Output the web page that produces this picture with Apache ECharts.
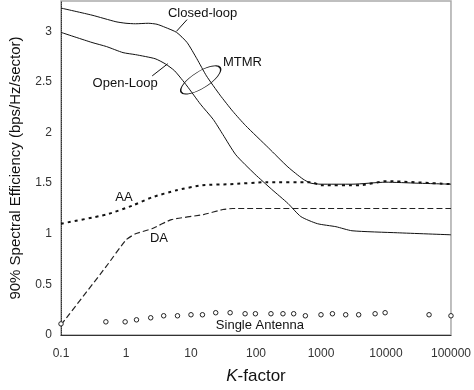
<!DOCTYPE html>
<html><head><meta charset="utf-8">
<script src="https://cdn.jsdelivr.net/npm/echarts@6/dist/echarts.min.js"></script>
<style>html,body{margin:0;padding:0;background:#fff}#c{width:474px;height:390px}</style>
</head><body><div id="c"></div>
<script>
// ---- data ----
const xTicks = [0.1, 1, 10, 100, 1000, 10000, 100000];
const yTicks = [0, 0.5, 1, 1.5, 2, 2.5, 3];

const closedK = [0.1, 0.3, 0.7, 1, 1.4, 2.2, 3, 4, 6, 8.7, 12.3, 17.3, 28, 44, 69, 155, 310, 530, 700, 1000, 3000, 10000, 30000, 100000];
const closedV = [3.23, 3.16, 3.095, 3.08, 3.075, 3.08, 3.07, 3.04, 2.99, 2.89, 2.73, 2.56, 2.37, 2.21, 2.07, 1.85, 1.66, 1.54, 1.50, 1.49, 1.49, 1.51, 1.50, 1.49];

const openK = [0.1, 0.3, 0.5, 0.9, 1.4, 2.8, 4, 5.6, 8.7, 14, 22, 31, 49, 96, 174, 310, 490, 880, 1700, 3000, 15000, 100000];
const openV = [2.99, 2.89, 2.85, 2.79, 2.77, 2.73, 2.68, 2.61, 2.46, 2.28, 2.13, 1.98, 1.78, 1.59, 1.44, 1.30, 1.17, 1.10, 1.07, 1.03, 1.01, 0.99];

const aaK = [0.1, 0.5, 1.27, 2.5, 6, 15, 40, 150, 700, 1000, 4000, 10000, 100000];
const aaV = [1.10, 1.19, 1.28, 1.36, 1.43, 1.48, 1.49, 1.51, 1.51, 1.48, 1.48, 1.52, 1.49];

const daK = [0.1, 0.5, 1.0, 1.4, 2.5, 5, 15.6, 31, 44, 1000, 100000];
const daV = [0.10, 0.68, 0.94, 1.00, 1.05, 1.14, 1.19, 1.24, 1.25, 1.25, 1.25];

const saK = [0.1, 0.49, 0.97, 1.45, 2.4, 3.8, 6.2, 10, 15, 24, 40, 68, 98, 170, 260, 380, 575, 1000, 1500, 2400, 3800, 6800, 9700, 46000, 100000];
const saV = [0.11, 0.13, 0.13, 0.15, 0.17, 0.19, 0.19, 0.20, 0.20, 0.22, 0.22, 0.21, 0.21, 0.21, 0.21, 0.21, 0.19, 0.20, 0.21, 0.20, 0.20, 0.21, 0.22, 0.20, 0.19];

// annotations in data coordinates
const labels = [
  {text: 'Closed-loop', k: 15.1, v: 3.18},
  {text: 'Open-Loop', k: 0.97, v: 2.49},
  {text: 'MTMR', k: 62, v: 2.69},
  {text: 'AA', k: 0.93, v: 1.36},
  {text: 'DA', k: 3.21, v: 0.954},
  {text: 'Single Antenna', k: 115, v: 0.097}
];
const leaders = [
  [[5.97, 3.00], [8.7, 3.116]],
  [[2.53, 2.56], [4.39, 2.68]]
];
const ellipseCenter = [14.1, 2.52];

const zip = (a, b) => a.map((x, i) => [x, b[i]]);

const chart = echarts.init(document.getElementById('c'), null, {renderer: 'canvas'});
const font = 'Liberation Sans, Arial, Helvetica, sans-serif';
chart.setOption({
  animation: false,
  backgroundColor: '#fff',
  grid: {left: 53, right: 20, top: 1, bottom: 50, show: true, borderColor: '#aaa', borderWidth: 1.5},
  xAxis: {
    type: 'log', logBase: 10, min: 0.1, max: 100000,
    axisLine: {show: true, lineStyle: {color: '#333', width: 1}},
    axisTick: {show: false},
    splitLine: {show: false},
    axisLabel: {color: '#333', fontFamily: font, fontSize: 12, margin: 13,
      formatter: v => { const r = xTicks.find(t => Math.abs(Math.log10(t) - Math.log10(v)) < 1e-6); return r === undefined ? '' : String(r); }},
    name: '{i|K}{n|-factor}', nameLocation: 'middle', nameGap: 33,
    nameTextStyle: {rich: {i: {fontStyle: 'italic', fontSize: 17, fontFamily: font, color: '#111'}, n: {fontSize: 17, fontFamily: font, color: '#111'}}}
  },
  yAxis: {
    type: 'value', min: 0, max: 3.3, interval: 0.5,
    axisLine: {show: true, lineStyle: {color: '#333', width: 1, type: 'dotted'}},
    axisTick: {show: false},
    splitLine: {show: false},
    axisLabel: {color: '#333', fontFamily: font, fontSize: 12, margin: 9,
      formatter: v => yTicks.some(t => Math.abs(t - v) < 1e-9) ? String(v) : ''},
    name: '90% Spectral Efficiency (bps/Hz/sector)', nameLocation: 'middle', nameGap: 38,
    nameTextStyle: {fontSize: 15, fontFamily: font, color: '#111'}
  },
  series: [
    {type: 'line', name: 'Closed-loop', data: zip(closedK, closedV), showSymbol: false, smooth: 0.2,
      lineStyle: {color: '#111', width: 1}},
    {type: 'line', name: 'Open-Loop', data: zip(openK, openV), showSymbol: false, smooth: 0.2,
      lineStyle: {color: '#111', width: 1}},
    {type: 'line', name: 'AA', data: zip(aaK, aaV), showSymbol: false, smooth: 0.2,
      lineStyle: {color: '#111', width: 2, type: [3, 4]}},
    {type: 'line', name: 'DA', data: zip(daK, daV), showSymbol: false, smooth: 0.15,
      lineStyle: {color: '#222', width: 1.2, type: [6, 3]}},
    {type: 'scatter', name: 'Single Antenna', data: zip(saK, saV), symbol: 'circle', symbolSize: 4.5,
      itemStyle: {color: '#fff', borderColor: '#222', borderWidth: 1, opacity: 1}, z: 5}
  ]
});

function drawAnnotations() {
  const g = [];
  labels.forEach(l => {
    const p = chart.convertToPixel({gridIndex: 0}, [l.k, l.v]);
    g.push({type: 'text', x: p[0], y: p[1], style: {text: l.text, font: '13px ' + font, fill: '#111', align: 'center', verticalAlign: 'middle'}});
  });
  leaders.forEach(s => {
    const a = chart.convertToPixel({gridIndex: 0}, s[0]);
    const b = chart.convertToPixel({gridIndex: 0}, s[1]);
    g.push({type: 'line', shape: {x1: a[0], y1: a[1], x2: b[0], y2: b[1]}, style: {stroke: '#111', lineWidth: 1}});
  });
  const c = chart.convertToPixel({gridIndex: 0}, ellipseCenter);
  g.push({type: 'circle', x: c[0], y: c[1], rotation: 32 * Math.PI / 180, scaleY: 0.36,
    shape: {cx: 0, cy: 0, r: 23}, style: {fill: 'none', stroke: '#111', lineWidth: 1, strokeNoScale: true}});
  chart.setOption({graphic: g});
}
drawAnnotations();
</script></body></html>
